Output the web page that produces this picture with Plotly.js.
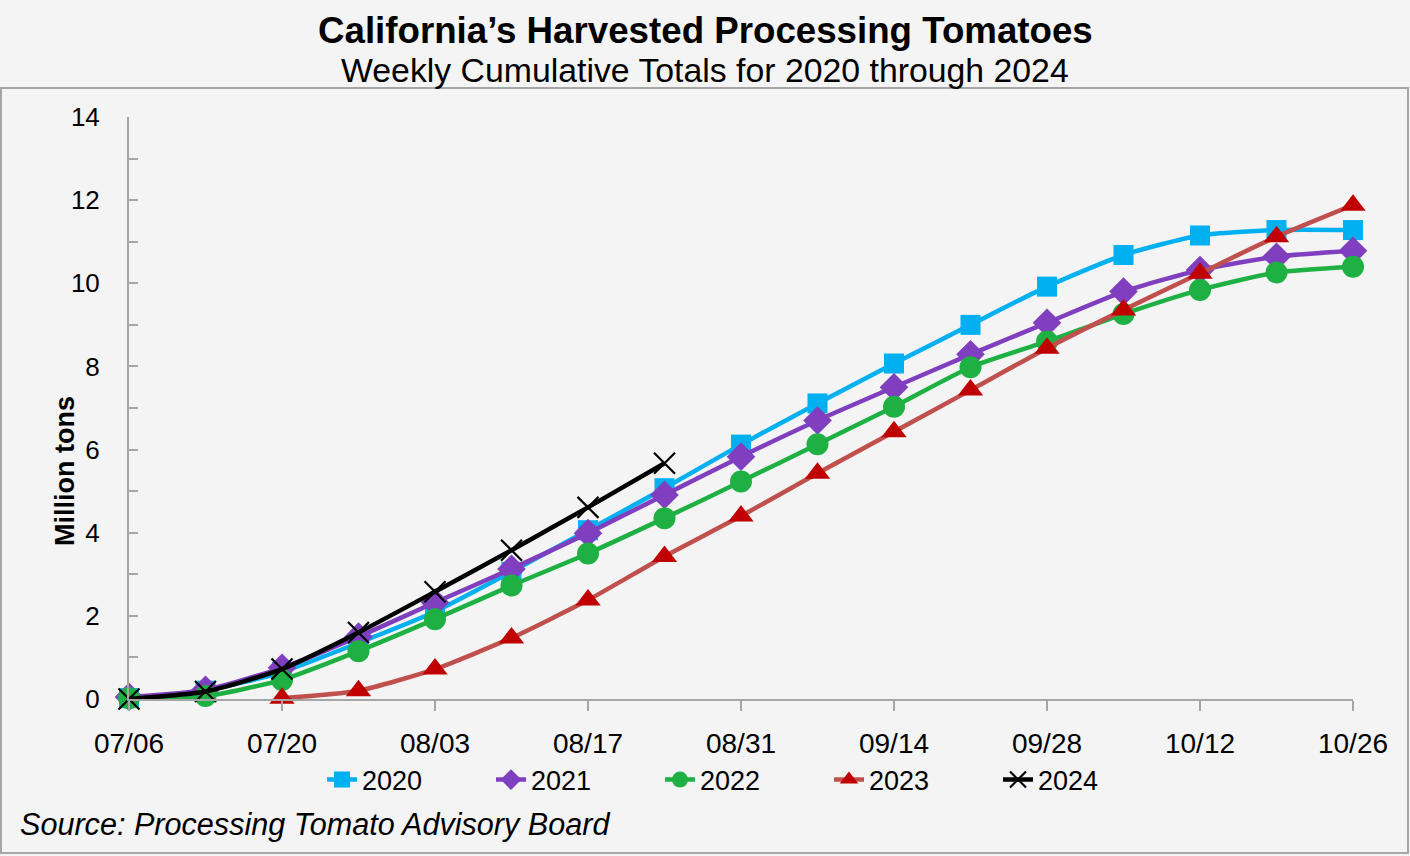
<!DOCTYPE html>
<html>
<head>
<meta charset="utf-8">
<script src="https://cdn.plot.ly/plotly-3.0.1.min.js"></script>
<style>
  html, body { margin: 0; padding: 0; background: #f4f4f4; }
  #chart { width: 1410px; height: 856px; }
</style>
</head>
<body>
<div id="chart"></div>
<script>
const weeks = ['07/06','07/13','07/20','07/27','08/03','08/10','08/17','08/24','08/31','09/07','09/14','09/21','09/28','10/05','10/12','10/19','10/26'];
const tickLabels = ['07/06','07/20','08/03','08/17','08/31','09/14','09/28','10/12','10/26'];
const y2020 = [0.02, 0.20, 0.65, 1.35, 2.10, 3.06, 4.06, 5.07, 6.12, 7.11, 8.07, 9.00, 9.92, 10.68, 11.15, 11.28, 11.28];
const y2021 = [0.05, 0.22, 0.75, 1.50, 2.32, 3.13, 3.99, 4.91, 5.83, 6.70, 7.50, 8.29, 9.05, 9.80, 10.32, 10.64, 10.78];
const y2022 = [0.02, 0.07, 0.46, 1.15, 1.92, 2.73, 3.50, 4.35, 5.23, 6.13, 7.03, 7.98, 8.60, 9.26, 9.84, 10.26, 10.40];
const y2023 = [null, null, 0.02, 0.20, 0.72, 1.47, 2.38, 3.43, 4.40, 5.43, 6.43, 7.43, 8.44, 9.36, 10.24, 11.12, 11.88];
const y2024 = [0.00, 0.18, 0.72, 1.60, 2.58, 3.58, 4.61, 5.67];
const seriesNames = ['2020','2021','2022','2023','2024'];

const FONT = 'Arial, "Liberation Sans", sans-serif';

function trace(name, ys, lineColor, markerColor, symbol, size) {
  return {
    type: 'scatter', mode: 'lines+markers', name: name,
    x: weeks.slice(0, ys.length), y: ys,
    line: { color: lineColor, width: 4.5, shape: 'spline', smoothing: 0.6 },
    marker: { color: markerColor, symbol: symbol, size: size, line: { width: 0 } },
    cliponaxis: false, connectgaps: false
  };
}

const t2024 = trace(seriesNames[4], y2024, '#000000', '#000000', 'x-thin-open', 21);
t2024.marker.line = { width: 2.2, color: '#000000' };

const data = [
  trace(seriesNames[0], y2020, '#00b0f0', '#00b0f0', 'square', 20),
  trace(seriesNames[1], y2021, '#7f3fbf', '#7f3fbf', 'diamond', 22),
  trace(seriesNames[2], y2022, '#1eb043', '#1eb043', 'circle', 22),
  trace(seriesNames[3], y2023, '#c0504d', '#c00000', 'triangle-up', 22),
  t2024
];

// paper coordinates helpers (plot area: x 129..1353, y 117..699)
const px = v => (v - 129) / 1224;
const py = v => (699 - v) / 582;

const layout = {
  width: 1410, height: 856,
  margin: { l: 129, r: 57, t: 117, b: 157 },
  paper_bgcolor: '#f4f4f4', plot_bgcolor: '#f4f4f4',
  font: { family: FONT, color: '#000000' },
  showlegend: true,
  legend: {
    orientation: 'h', x: px(322), xanchor: 'left', y: py(780), yanchor: 'middle',
    font: { size: 27, family: FONT, color: '#000' }, bgcolor: 'rgba(0,0,0,0)',
    entrywidth: 124, entrywidthmode: 'pixels', tracegroupgap: 0
  },
  xaxis: {
    type: 'category', categoryorder: 'array', categoryarray: weeks,
    range: [0, 16], tickmode: 'array', tickvals: tickLabels, ticktext: tickLabels,
    showgrid: false, zeroline: false, showline: true, linecolor: '#a6a6a6', linewidth: 2,
    ticks: 'outside', ticklen: 10, tickwidth: 2, tickcolor: '#a6a6a6',
    tickfont: { size: 28, family: FONT, color: '#000' }, ticklabelstandoff: 8, fixedrange: true
  },
  yaxis: {
    range: [0, 14], dtick: 2, tick0: 0,
    showgrid: false, zeroline: false, showline: true, linecolor: '#a6a6a6', linewidth: 2,
    ticks: 'inside', ticklen: 9, tickwidth: 2, tickcolor: '#a6a6a6',
    minor: { dtick: 1, ticks: 'inside', ticklen: 9, tickwidth: 2, tickcolor: '#a6a6a6', showgrid: false },
    tickfont: { size: 26, family: FONT, color: '#000' }, ticklabelstandoff: 22, fixedrange: true
  },
  shapes: [
    { type: 'rect', xref: 'paper', yref: 'paper', x0: px(1), x1: px(1408), y0: py(853), y1: py(88),
      line: { color: '#a6a6a6', width: 2 }, fillcolor: 'rgba(0,0,0,0)', layer: 'below' }
  ],
  annotations: [
    { text: '<b>California’s Harvested Processing Tomatoes</b>', xref: 'paper', yref: 'paper',
      x: px(705), y: py(30), xanchor: 'center', yanchor: 'middle', showarrow: false,
      font: { size: 36.7, family: FONT, color: '#000' } },
    { text: 'Weekly Cumulative Totals for 2020 through 2024', xref: 'paper', yref: 'paper',
      x: px(705), y: py(70), xanchor: 'center', yanchor: 'middle', showarrow: false,
      font: { size: 33.8, family: FONT, color: '#000' } },
    { text: '<b>Million tons</b>', xref: 'paper', yref: 'paper', textangle: -90,
      x: px(65), y: py(471), xanchor: 'center', yanchor: 'middle', showarrow: false,
      font: { size: 27, family: FONT, color: '#000' } },
    { text: '<i>Source: Processing Tomato Advisory Board</i>', xref: 'paper', yref: 'paper',
      x: px(18), y: py(824), xanchor: 'left', yanchor: 'middle', showarrow: false,
      font: { size: 30.6, family: FONT, color: '#000' } }
  ]
};

Plotly.newPlot('chart', data, layout, { displayModeBar: false, staticPlot: true });
</script>
</body>
</html>
